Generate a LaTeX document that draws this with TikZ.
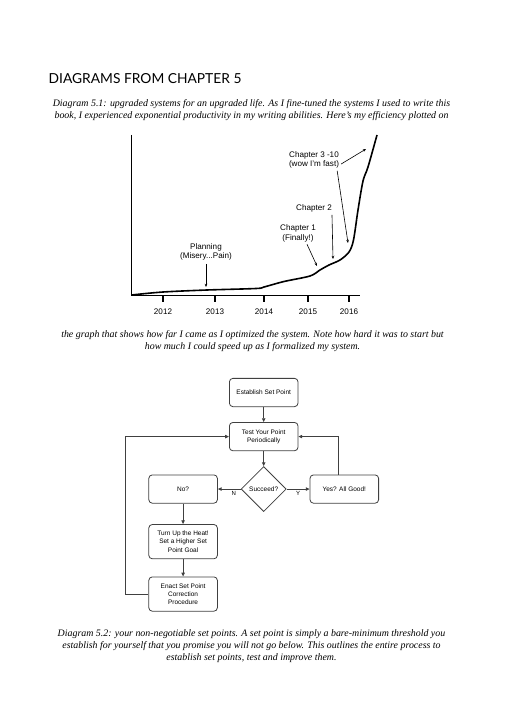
\documentclass[tikz,border=0pt]{standalone}
\usepackage{fontspec}
\setmainfont{Liberation Serif}
\setsansfont{Liberation Sans}
\newfontfamily\titlefont{Lato}
\usetikzlibrary{arrows.meta,positioning,shapes.geometric}
\definecolor{flowInk}{RGB}{64,64,64}
\begin{document}
\begin{tikzpicture}[x=1pt,y=-1pt,
    capt/.style={font=\fontsize{9.9}{12}\selectfont\itshape,align=center,inner sep=0pt},
    glbl/.style={font=\sffamily\fontsize{8.1}{9.6}\selectfont,align=center,inner sep=1pt},
    gar/.style={-{Stealth[length=3.2pt,width=2.6pt]},line width=0.6pt},
    proc/.style={rounded corners=3.5pt,draw=flowInk,line width=0.8pt,minimum width=68.6pt,
                 minimum height=28.3pt,align=center,inner sep=1pt,
                 font=\sffamily\fontsize{6.5}{8.3}\selectfont},
    dec/.style={diamond,draw=flowInk,line width=0.8pt,minimum size=45pt,inner sep=0pt,
                font=\sffamily\fontsize{6.5}{8.3}\selectfont},
    arr/.style={-{Triangle[length=3.8pt,width=3.4pt]},draw=flowInk,line width=0.8pt},
    yn/.style={font=\sffamily\fontsize{6}{7}\selectfont,inner sep=1.5pt}]
  \useasboundingbox (0,0) rectangle (505,714);
  \node[anchor=base west,inner sep=0pt,font=\titlefont\fontsize{13.8}{16}\selectfont]
    (title) at (48.5,84) {DIAGRAMS FROM CHAPTER 5};
  \node[capt] (cap1) at (251.5,110)
    {Diagram 5.1: upgraded systems for an upgraded life. As I fine-tuned the systems I used to write this\\
     book, I experienced exponential productivity in my writing abilities. Here’s my efficiency plotted on};
  % graph
  \draw[line width=1.6pt] (131.5,135) -- (131.5,295.5) -- (360,295.5);
  \foreach \yr/\xx in {2012/163,2013/215,2014/264,2015/308,2016/349} {
    \draw[line width=1.2pt] (\xx,295.5) -- (\xx,301.5);
    \node[glbl] (y\yr) at (\xx,312) {\yr};
  }
  \draw[line width=1.6pt,line join=round] plot[smooth,tension=0.5] coordinates {
    (131.5,295) (163,292) (207,290) (256,288.5) (264,287) (284,281.5) (310,276)
    (320,270) (329,265) (340,260) (349,252) (353.5,240) (358,210) (363,181)
    (368,167) (377,135)};
  \coordinate (pPlan) at (206,287);
  \coordinate (pCh1) at (317,266);
  \coordinate (pCh2) at (333,259);
  \coordinate (pCh3) at (348,243);
  \coordinate (pTop) at (366,149);
  \node[glbl] (plan) at (206,252) {Planning\\(Misery...Pain)};
  \node[glbl] (ch1) at (298,233.5) {Chapter 1\\(Finally!)};
  \node[glbl] (ch2) at (314,208) {Chapter 2};
  \node[glbl] (ch3) at (314,160) {Chapter 3 -10\\(wow I'm fast)};
  \draw[gar] ([yshift=-2pt]plan.south) -- (pPlan);
  \draw[gar] ([xshift=9pt,yshift=-1pt]ch1.south) -- (pCh1);
  \draw[gar] ([xshift=-1pt,yshift=-2pt]ch2.south east) -- (pCh2);
  \draw[gar] ([xshift=1pt,yshift=-4pt]ch3.east) -- (pTop);
  \draw[gar] ([xshift=-3pt,yshift=-1pt]ch3.south east) -- (pCh3);
  \node[capt] (cap2) at (252.5,341)
    {the graph that shows how far I came as I optimized the system. Note how hard it was to start but\\
     how much I could speed up as I formalized my system.};
  % flowchart
  \node[proc] (est) at (263.7,392.5) {Establish Set Point};
  \node[proc,below=15pt of est] (test) {Test Your Point\\Periodically};
  \node[dec,below=15pt of test] (succ) {Succeed?};
  \node[proc,left=23pt of succ] (no) {No?};
  \node[proc,right=23pt of succ] (yes) {Yes? All Good!};
  \node[proc,minimum height=34.3pt,below=20.5pt of no] (heat) {Turn Up the Heat!\\Set a Higher Set\\Point Goal};
  \node[proc,minimum height=34.3pt,below=17.3pt of heat] (enact) {Enact Set Point\\Correction\\Procedure};
  \draw[arr] (est) -- (test);
  \draw[arr] (test) -- (succ);
  \draw[arr] (succ.west) -- node[yn,pos=0.3,below] {N} (no.east);
  \draw[arr] (succ.east) -- node[yn,pos=0.5,below] {Y} (yes.west);
  \draw[arr] (no) -- (heat);
  \draw[arr] (heat) -- (enact);
  \draw[arr] (enact.west) -- ++(-23.3,0) |- (test.west);
  \draw[arr] ([xshift=-6pt]yes.north) |- (test.east);
  \node[capt] (cap3) at (251.5,646)
    {Diagram 5.2: your non-negotiable set points. A set point is simply a bare-minimum threshold you\\
     establish for yourself that you promise you will not go below. This outlines the entire process to\\
     establish set points, test and improve them.};
\end{tikzpicture}
\end{document}
